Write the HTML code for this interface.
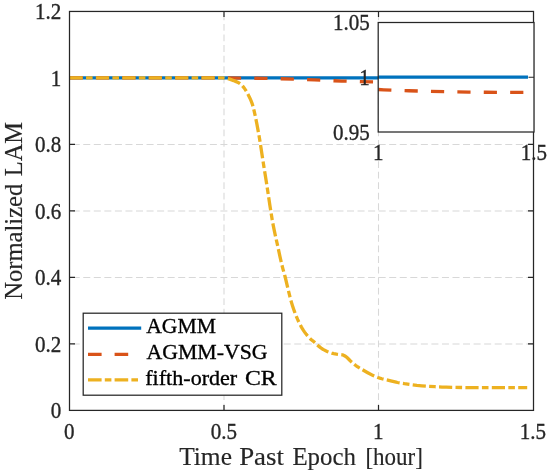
<!DOCTYPE html><html><head><meta charset="utf-8"><style>html,body{margin:0;padding:0;background:#fff;width:550px;height:475px;overflow:hidden}svg{display:block}</style></head><body><svg width="550" height="475" viewBox="0 0 550 475">
<rect width="550" height="475" fill="#fff"/>
<g stroke="#d8d8d8" stroke-width="1.05" stroke-dasharray="6.8 3.75" stroke-dashoffset="8.55" fill="none"><line x1="224.00" y1="11.45" x2="224.00" y2="410.4"/><line x1="378.50" y1="11.45" x2="378.50" y2="410.4"/></g>
<g stroke="#d8d8d8" stroke-width="1.05" stroke-dasharray="7 3.55" stroke-dashoffset="7.35" fill="none"><line x1="69.5" y1="343.91" x2="533.5" y2="343.91"/><line x1="69.5" y1="277.42" x2="533.5" y2="277.42"/><line x1="69.5" y1="210.92" x2="533.5" y2="210.92"/><line x1="69.5" y1="144.43" x2="533.5" y2="144.43"/><line x1="69.5" y1="77.94" x2="533.5" y2="77.94"/></g>
<path d="M224.00,410.4v-5.5M224.00,11.45v5.5M378.50,410.4v-5.5M378.50,11.45v5.5M69.5,343.91h5.5M533.5,343.91h-5.5M69.5,277.42h5.5M533.5,277.42h-5.5M69.5,210.92h5.5M533.5,210.92h-5.5M69.5,144.43h5.5M533.5,144.43h-5.5M69.5,77.94h5.5M533.5,77.94h-5.5" stroke="#262626" stroke-width="1.2" fill="none"/>
<path d="M69.5,77.9 L526.82,77.9" stroke="#0072BD" stroke-width="3.3" fill="none"/>
<path d="M69.50,77.90 L225.60,77.90 L257.10,78.26 L265.50,78.39 L273.90,78.57 L293.49,79.09 L314.47,79.86 L334.05,80.76 L341.75,81.06 L359.24,81.61 L378.50,82.10" stroke="#D95319" stroke-width="3.3" fill="none" stroke-dasharray="13.2 13.2"/>
<path d="M69.50,77.90 L221.40,77.90 L222.80,77.92 L224.20,78.04 L226.27,78.36 L228.34,78.76 L229.69,79.15 L233.64,80.59 L235.59,81.39 L238.15,82.55 L239.40,83.21 L240.00,83.60 L240.58,84.03 L241.12,84.51 L242.12,85.53 L243.49,87.15 L244.78,88.84 L245.58,90.02 L246.32,91.24 L247.36,93.09 L248.33,94.97 L249.58,97.49 L250.48,99.42 L251.30,101.38 L252.05,103.38 L252.51,104.75 L253.10,106.81 L253.63,108.87 L254.45,112.29 L255.37,116.43 L256.76,123.32 L258.67,133.67 L259.64,139.21 L263.17,162.06 L266.28,181.42 L269.94,205.65 L270.80,211.17 L272.15,219.43 L273.28,225.59 L274.10,229.69 L275.25,235.15 L277.56,245.38 L279.92,256.34 L281.00,261.09 L281.98,265.16 L282.84,268.54 L284.70,275.26 L285.43,278.00 L287.83,288.23 L289.66,295.70 L290.70,299.74 L291.47,302.40 L292.49,305.73 L293.58,309.03 L294.51,311.65 L295.49,314.25 L296.53,316.83 L297.62,319.39 L298.77,321.92 L300.01,324.40 L301.32,326.86 L302.35,328.67 L303.44,330.44 L304.61,332.15 L305.86,333.81 L307.19,335.41 L308.58,336.96 L310.04,338.45 L311.05,339.40 L314.27,342.09 L315.31,343.04 L317.33,344.98 L318.36,345.91 L320.53,347.65 L321.66,348.47 L322.81,349.23 L324.02,349.93 L325.25,350.58 L327.14,351.45 L329.75,352.46 L331.74,353.10 L333.77,353.60 L336.52,354.11 L338.60,354.43 L341.38,354.72 L342.07,354.82 L342.77,354.96 L343.44,355.20 L344.09,355.51 L345.30,356.24 L346.47,357.04 L347.54,358.00 L349.98,360.51 L351.53,361.91 L353.11,363.29 L354.71,364.63 L355.80,365.49 L356.92,366.32 L358.66,367.48 L361.04,368.93 L367.73,372.74 L370.19,374.07 L372.06,375.00 L375.25,376.43 L377.85,377.46 L379.83,378.15 L381.84,378.74 L383.87,379.26 L390.68,380.85 L396.12,382.19 L397.49,382.50 L399.55,382.89 L404.38,383.70 L411.31,384.68 L416.86,385.36 L421.74,385.82 L428.02,386.29 L435.01,386.71 L442.00,387.06 L446.20,387.21 L452.50,387.36 L472.09,387.69 L527.20,387.70" stroke="#EDB120" stroke-width="3.3" fill="none" stroke-dasharray="13.2 3.3 6.6 3.3"/>
<rect x="69.5" y="11.45" width="464.00" height="398.95" stroke="#262626" stroke-width="1.25" fill="none"/>
<g font-family="Liberation Serif, serif" stroke-width="0.35" font-size="22.5" fill="#262626" stroke="#262626"><text transform="translate(61.3,19.05) scale(0.935,1)" text-anchor="end">1.2</text><text transform="translate(61.3,85.54) scale(0.935,1)" text-anchor="end">1</text><text transform="translate(61.3,152.03) scale(0.935,1)" text-anchor="end">0.8</text><text transform="translate(61.3,218.52) scale(0.935,1)" text-anchor="end">0.6</text><text transform="translate(61.3,285.02) scale(0.935,1)" text-anchor="end">0.4</text><text transform="translate(61.3,351.51) scale(0.935,1)" text-anchor="end">0.2</text><text transform="translate(61.3,418.00) scale(0.935,1)" text-anchor="end">0</text><text transform="translate(69.30,438.8) scale(0.935,1)" text-anchor="middle">0</text><text transform="translate(223.80,438.8) scale(0.935,1)" text-anchor="middle">0.5</text><text transform="translate(378.30,438.8) scale(0.935,1)" text-anchor="middle">1</text><text transform="translate(532.80,438.8) scale(0.935,1)" text-anchor="middle">1.5</text></g>
<g font-family="Liberation Serif, serif" font-size="24.5" fill="#262626" stroke="#262626" stroke-width="0.15"><text x="179.17" y="464.6" textLength="52.79" lengthAdjust="spacingAndGlyphs">Time</text><text x="239.16" y="464.6" textLength="44.84" lengthAdjust="spacingAndGlyphs">Past</text><text x="292.42" y="464.6" textLength="63.60" lengthAdjust="spacingAndGlyphs">Epoch</text><text x="365.42" y="464.6" textLength="57.44" lengthAdjust="spacingAndGlyphs">[hour]</text></g>
<g transform="translate(21.9,0) rotate(-90)" font-family="Liberation Serif, serif" font-size="24.5" fill="#262626" stroke="#262626" stroke-width="0.15"><text x="-299.77" y="0" textLength="116.07" lengthAdjust="spacingAndGlyphs">Normalized</text><text x="-176.16" y="0" textLength="54.16" lengthAdjust="spacingAndGlyphs">LAM</text></g>
<rect x="378.2" y="22.5" width="155.80" height="109.50" fill="#fff"/>
<path d="M378.2,77.25h5.5M534.0,77.25h-5.5" stroke="#262626" stroke-width="1.2"/>
<path d="M378.2,77.1 L528,77.1" stroke="#0072BD" stroke-width="3.3" fill="none"/>
<path d="M378.20,89.50 L383.79,89.79 L391.49,90.12 L408.97,90.74 L428.57,91.29 L450.26,91.77 L468.46,92.06 L485.96,92.27 L508.36,92.39 L528.00,92.40" stroke="#D95319" stroke-width="3.3" fill="none" stroke-dasharray="13.2 13.2" stroke-dashoffset="0"/>
<rect x="378.2" y="22.5" width="155.80" height="109.50" stroke="#262626" stroke-width="1.25" fill="none"/>
<g font-family="Liberation Serif, serif" stroke-width="0.35" font-size="22.5" fill="#262626" stroke="#262626"><text transform="translate(369.70,30.10) scale(0.935,1)" text-anchor="end">1.05</text><text transform="translate(369.70,84.85) scale(0.935,1)" text-anchor="end">1</text><text transform="translate(369.70,139.60) scale(0.935,1)" text-anchor="end">0.95</text><text transform="translate(378.20,159.7) scale(0.935,1)" text-anchor="middle">1</text><text transform="translate(534.00,159.7) scale(0.935,1)" text-anchor="middle">1.5</text></g>
<rect x="83.2" y="313.2" width="198.60" height="82.00" fill="#fff" stroke="#262626" stroke-width="1.25"/>
<path d="M88,328.2 L141.2,328.2" stroke="#0072BD" stroke-width="3.3"/>
<path d="M88,354.3 L141.2,354.3" stroke="#D95319" stroke-width="3.3" stroke-dasharray="13.6 13"/>
<path d="M88,379.9 L141.2,379.9" stroke="#EDB120" stroke-width="3.3" stroke-dasharray="13.6 3.2 6.6 3.2"/>
<g font-family="Liberation Serif, serif" stroke-width="0.35" font-size="22" fill="#000" stroke="#000"><text x="146.25" y="333.3" textLength="69.69" lengthAdjust="spacingAndGlyphs">AGMM</text><text x="146.55" y="359.3" textLength="120.99" lengthAdjust="spacingAndGlyphs">AGMM-VSG</text><text x="145.25" y="385.4" textLength="91.98" lengthAdjust="spacingAndGlyphs">fifth-order</text><text x="245.02" y="385.4" textLength="31.59" lengthAdjust="spacingAndGlyphs">CR</text></g>
</svg></body></html>
